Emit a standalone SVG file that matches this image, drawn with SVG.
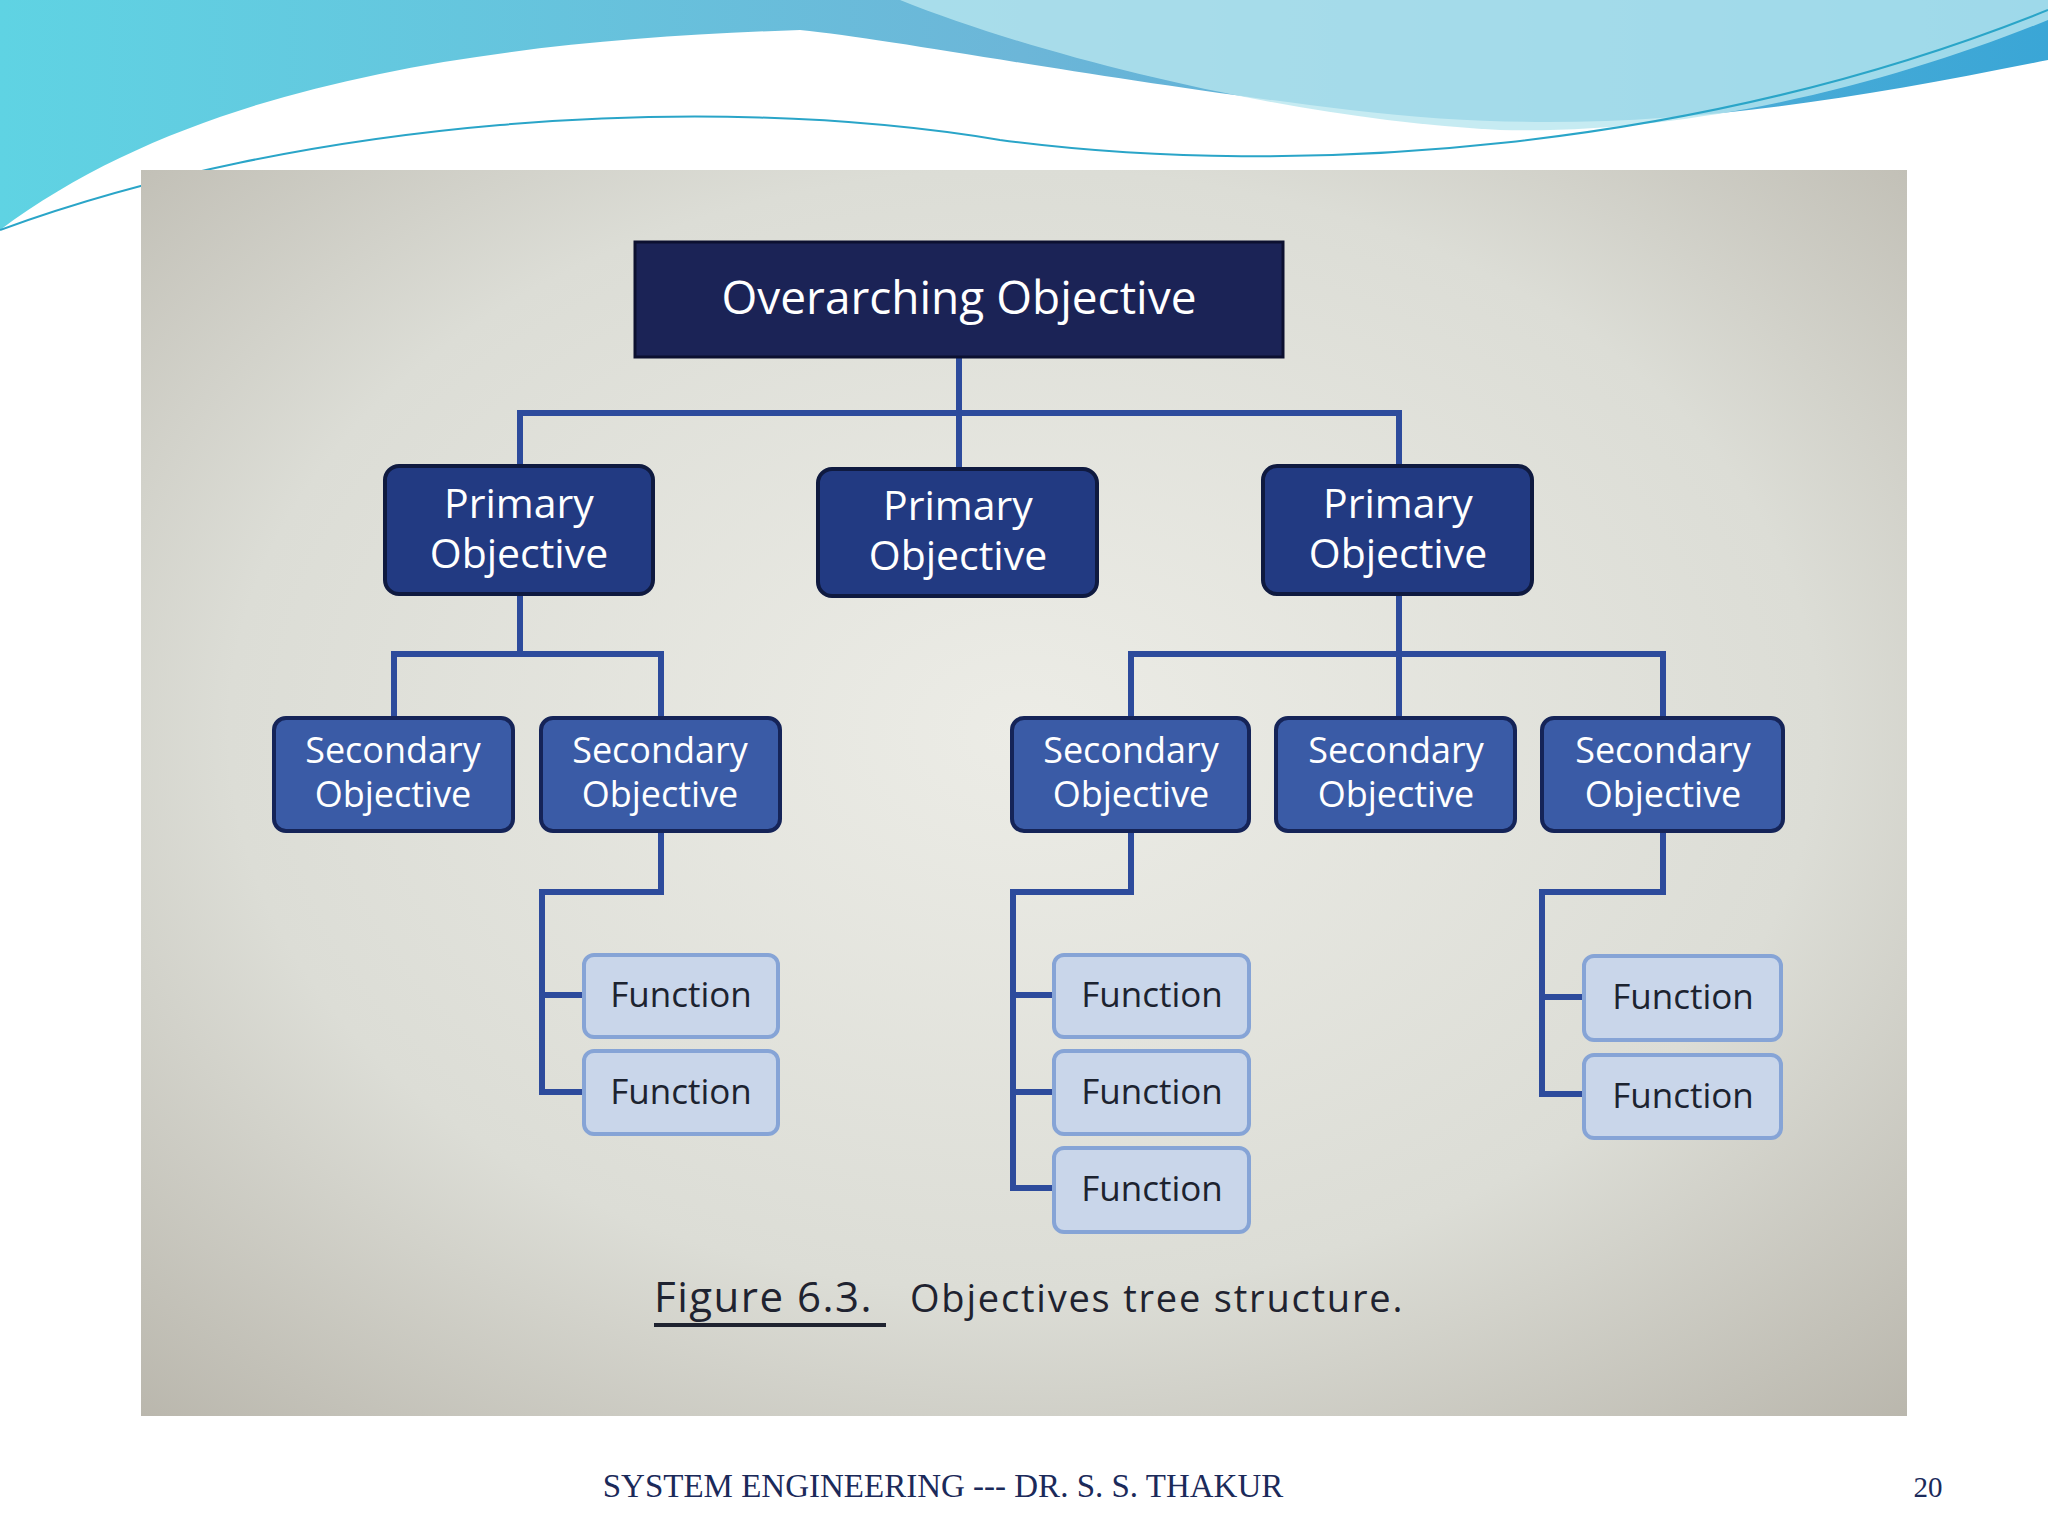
<svg xmlns="http://www.w3.org/2000/svg" width="2048" height="1536" viewBox="0 0 2048 1536">
<style>
.t{font-family:"Open Sans","Liberation Sans",sans-serif;text-anchor:middle;fill:#fff}
.p{fill:#223a82;stroke:#0f1a40;stroke-width:4}
.s{fill:#3a5ba6;stroke:#152458;stroke-width:4}
.f{fill:#c9d6ea;stroke:#86a4d6;stroke-width:4}
.ft{font-family:"Open Sans","Liberation Sans",sans-serif;text-anchor:middle;fill:#1c2330;font-size:35px}
.ln{fill:none;stroke:#2d4b9c;stroke-width:6}
</style>
<defs>
<radialGradient id="bg" cx="0.5" cy="0.45" r="0.75">
<stop offset="0" stop-color="#ecece6"/><stop offset="0.6" stop-color="#dcddd6"/><stop offset="1" stop-color="#b9b6ac"/>
</radialGradient>
<linearGradient id="w1" x1="0" x2="1"><stop offset="0" stop-color="#5fd3e3"/><stop offset="0.5" stop-color="#6cb6d8"/><stop offset="1" stop-color="#3aa6d6"/></linearGradient>
</defs>
<rect width="2048" height="1536" fill="#fff"/>
<path d="M0 0H2048V60C1800 110 1600 140 1350 110C1100 80 900 40 800 30C500 40 200 80 0 230Z" fill="url(#w1)"/>
<path d="M900 0C1050 60 1300 120 1500 130C1700 135 1900 80 2048 20V0Z" fill="#b8e6ef" opacity="0.8"/>
<path d="M0 230C300 120 700 90 1000 140C1300 180 1700 150 2048 10" fill="none" stroke="#2aa5c8" stroke-width="2"/>
<rect x="141" y="170" width="1766" height="1246" fill="url(#bg)"/>
<g id="connectors">
<path class="ln" d="M959 357V469M520 466V413H1399V466"/>
<path class="ln" d="M520 594V654M394 718V654H661V718"/>
<path class="ln" d="M1399 594V718M1131 718V654H1663V718"/>
<path class="ln" d="M661 831V892H542V1092H584M542 995H584"/>
<path class="ln" d="M1131 831V892H1013V1188H1054M1013 995H1054M1013 1092H1054"/>
<path class="ln" d="M1663 831V892H1542V1094H1584M1542 997H1584"/>
</g>
<g id="top"><rect x="635" y="242" width="648" height="115" fill="#1b2356" stroke="#0c1030" stroke-width="3"/><text class="t" x="959" y="314" font-size="46">Overarching Objective</text></g>
<g id="p1"><rect class="p" x="385" y="466" width="268" height="128" rx="14"/><text class="t" x="519" y="518" font-size="41">Primary</text><text class="t" x="519" y="568" font-size="41">Objective</text></g>
<g id="p2"><rect class="p" x="818" y="469" width="279" height="127" rx="14"/><text class="t" x="958" y="520" font-size="41">Primary</text><text class="t" x="958" y="570" font-size="41">Objective</text></g>
<g id="p3"><rect class="p" x="1263" y="466" width="269" height="128" rx="14"/><text class="t" x="1398" y="518" font-size="41">Primary</text><text class="t" x="1398" y="568" font-size="41">Objective</text></g>
<g id="s1"><rect class="s" x="274" y="718" width="239" height="113" rx="12"/><text class="t" x="393" y="763" font-size="36">Secondary</text><text class="t" x="393" y="807" font-size="36">Objective</text></g>
<g id="s2"><rect class="s" x="541" y="718" width="239" height="113" rx="12"/><text class="t" x="660" y="763" font-size="36">Secondary</text><text class="t" x="660" y="807" font-size="36">Objective</text></g>
<g id="s3"><rect class="s" x="1012" y="718" width="237" height="113" rx="12"/><text class="t" x="1131" y="763" font-size="36">Secondary</text><text class="t" x="1131" y="807" font-size="36">Objective</text></g>
<g id="s4"><rect class="s" x="1276" y="718" width="239" height="113" rx="12"/><text class="t" x="1396" y="763" font-size="36">Secondary</text><text class="t" x="1396" y="807" font-size="36">Objective</text></g>
<g id="s5"><rect class="s" x="1542" y="718" width="241" height="113" rx="12"/><text class="t" x="1663" y="763" font-size="36">Secondary</text><text class="t" x="1663" y="807" font-size="36">Objective</text></g>
<g id="f1"><rect class="f" x="584" y="955" width="194" height="82" rx="10"/><text class="ft" x="681" y="1007">Function</text></g>
<g id="f2"><rect class="f" x="584" y="1051" width="194" height="83" rx="10"/><text class="ft" x="681" y="1104">Function</text></g>
<g id="f3"><rect class="f" x="1054" y="955" width="195" height="82" rx="10"/><text class="ft" x="1152" y="1007">Function</text></g>
<g id="f4"><rect class="f" x="1054" y="1051" width="195" height="83" rx="10"/><text class="ft" x="1152" y="1104">Function</text></g>
<g id="f5"><rect class="f" x="1054" y="1148" width="195" height="84" rx="10"/><text class="ft" x="1152" y="1201">Function</text></g>
<g id="f6"><rect class="f" x="1584" y="956" width="197" height="84" rx="10"/><text class="ft" x="1683" y="1009">Function</text></g>
<g id="f7"><rect class="f" x="1584" y="1055" width="197" height="83" rx="10"/><text class="ft" x="1683" y="1108">Function</text></g>
<text x="654" y="1312" font-family="'Open Sans','DejaVu Sans',sans-serif" font-size="42" fill="#1f2330" letter-spacing="1.5">Figure 6.3.</text>
<line x1="654" y1="1325" x2="886" y2="1325" stroke="#1f2330" stroke-width="4"/>
<text x="910" y="1312" font-family="'Open Sans','DejaVu Sans',sans-serif" font-size="38" fill="#1f2330" letter-spacing="1.8">Objectives tree structure.</text>
<text x="943" y="1497" text-anchor="middle" font-family="'Liberation Serif',serif" font-size="33" fill="#1b2a5a">SYSTEM ENGINEERING --- DR. S. S. THAKUR</text>
<text x="1928" y="1497" text-anchor="middle" font-family="'Liberation Serif',serif" font-size="29" fill="#1b2a5a">20</text>
</svg>
